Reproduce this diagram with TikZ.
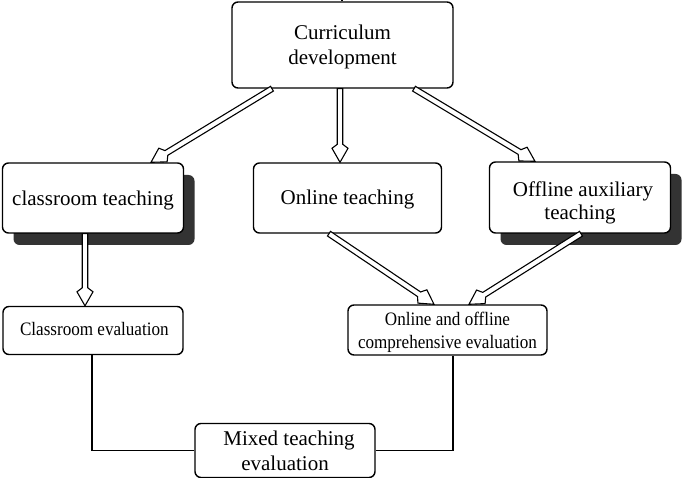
\documentclass[tikz,border=0pt]{standalone}
\usepackage{graphicx}
\usepackage{fontspec}
\setmainfont{Liberation Serif}
\usetikzlibrary{calc,shadows}
\tikzset{
  box/.style={draw=black, line width=1.4pt, rounded corners=6pt, fill=white, inner sep=2pt, align=center, font=\fontsize{21}{25}\selectfont},
  smallbox/.style={box, font=\fontsize{19}{24}\selectfont},
  shadowed/.style={drop shadow={shadow xshift=11pt, shadow yshift=-12pt, fill=black!80, opacity=1}},
  harr/.style={draw=black, line width=1.1pt, fill=white, line join=miter},
  conn/.style={draw=black, line width=1.1pt},
}
\newcommand{\lowered}[2]{\raisebox{-#1}[\height][\depth]{\begin{tabular}{@{}c@{}}#2\end{tabular}}}
\newcommand{\narrowed}[2]{\raisebox{-#1}[\height][\depth]{\scalebox{0.9}[1]{\begin{tabular}{@{}c@{}}#2\end{tabular}}}}
\newcommand{\harrow}[2]{%
  \path[harr] let \p1=($(#2)-(#1)$), \n1={atan2(\y1,\x1)} in
    ($(#1)+(\n1+90:2.75pt)$) -- ($(#2)+(\n1:-18pt)+(\n1+90:2.75pt)$) --
    ($(#2)+(\n1:-14pt)+(\n1+90:8pt)$) -- (#2) --
    ($(#2)+(\n1:-14pt)+(\n1-90:8pt)$) -- ($(#2)+(\n1:-18pt)+(\n1-90:2.75pt)$) --
    ($(#1)+(\n1-90:2.75pt)$) -- cycle;}
\begin{document}
\begin{tikzpicture}[x=1pt,y=-1pt]
\useasboundingbox[fill=white] (0,0) rectangle (685,478);
\node[box, minimum width=221pt, minimum height=86pt] (cur) at (342.5,45) {\lowered{2pt}{Curriculum\\development}};
\node[box, shadowed, minimum width=181pt, minimum height=70pt] (ct) at (93,198) {\lowered{3pt}{classroom teaching}};
\node[box, minimum width=188pt, minimum height=70pt] (ot) at (347.5,198) {\lowered{2pt}{Online teaching}};
\node[box, shadowed, minimum width=181pt, minimum height=71pt, font=\fontsize{21}{23}\selectfont] (oa) at (580,197.5) {\lowered{6pt}{\hspace{6pt}Offline auxiliary\\teaching}};
\node[smallbox, minimum width=180pt, minimum height=48pt] (ce) at (93,330.5) {\narrowed{0pt}{\hspace{3pt}Classroom evaluation}};
\node[smallbox, minimum width=199pt, minimum height=50pt, font=\fontsize{19}{23}\selectfont] (oc) at (447.5,330) {\narrowed{2pt}{Online and offline\\comprehensive evaluation}};
\node[box, minimum width=180pt, minimum height=49pt] (mx) at (285,450.5) {\lowered{2pt}{\hspace{8pt}Mixed teaching\\evaluation}};
% top free line
\coordinate (top) at (342,0);
\draw[conn] (top) -- (top |- cur.north);
% arrow end points
\coordinate (a1s) at ($(cur.south)+(-70.5,0)$);
\coordinate (a1e) at ($(ct.north)+(58,0)$);
\coordinate (a2s) at ($(cur.south)+(-2.5,0)$);
\coordinate (a2e) at ($(ot.north)+(-7.5,0)$);
\coordinate (a3s) at ($(cur.south)+(71.5,0)$);
\coordinate (a3e) at ($(oa.north)+(-45,0)$);
\coordinate (a4s) at ($(ct.south)+(-8,0)$);
\coordinate (a4e) at ($(ce.north)+(-8,0)$);
\coordinate (a5s) at ($(ot.south)+(-18.5,0)$);
\coordinate (a5e) at ($(oc.north)+(-13.5,0)$);
\coordinate (a6s) at ($(oa.south)+(1,0)$);
\coordinate (a6e) at ($(oc.north)+(21.5,0)$);
\harrow{a1s}{a1e}
\harrow{a2s}{a2e}
\harrow{a3s}{a3e}
\harrow{a4s}{a4e}
\harrow{a5s}{a5e}
\harrow{a6s}{a6e}
% connecting lines
\draw[conn] ($(ce.south)+(-1,0)$) |- (mx.west);
\draw[conn] ($(oc.south)+(5.5,0)$) |- (mx.east);
\end{tikzpicture}
\end{document}
